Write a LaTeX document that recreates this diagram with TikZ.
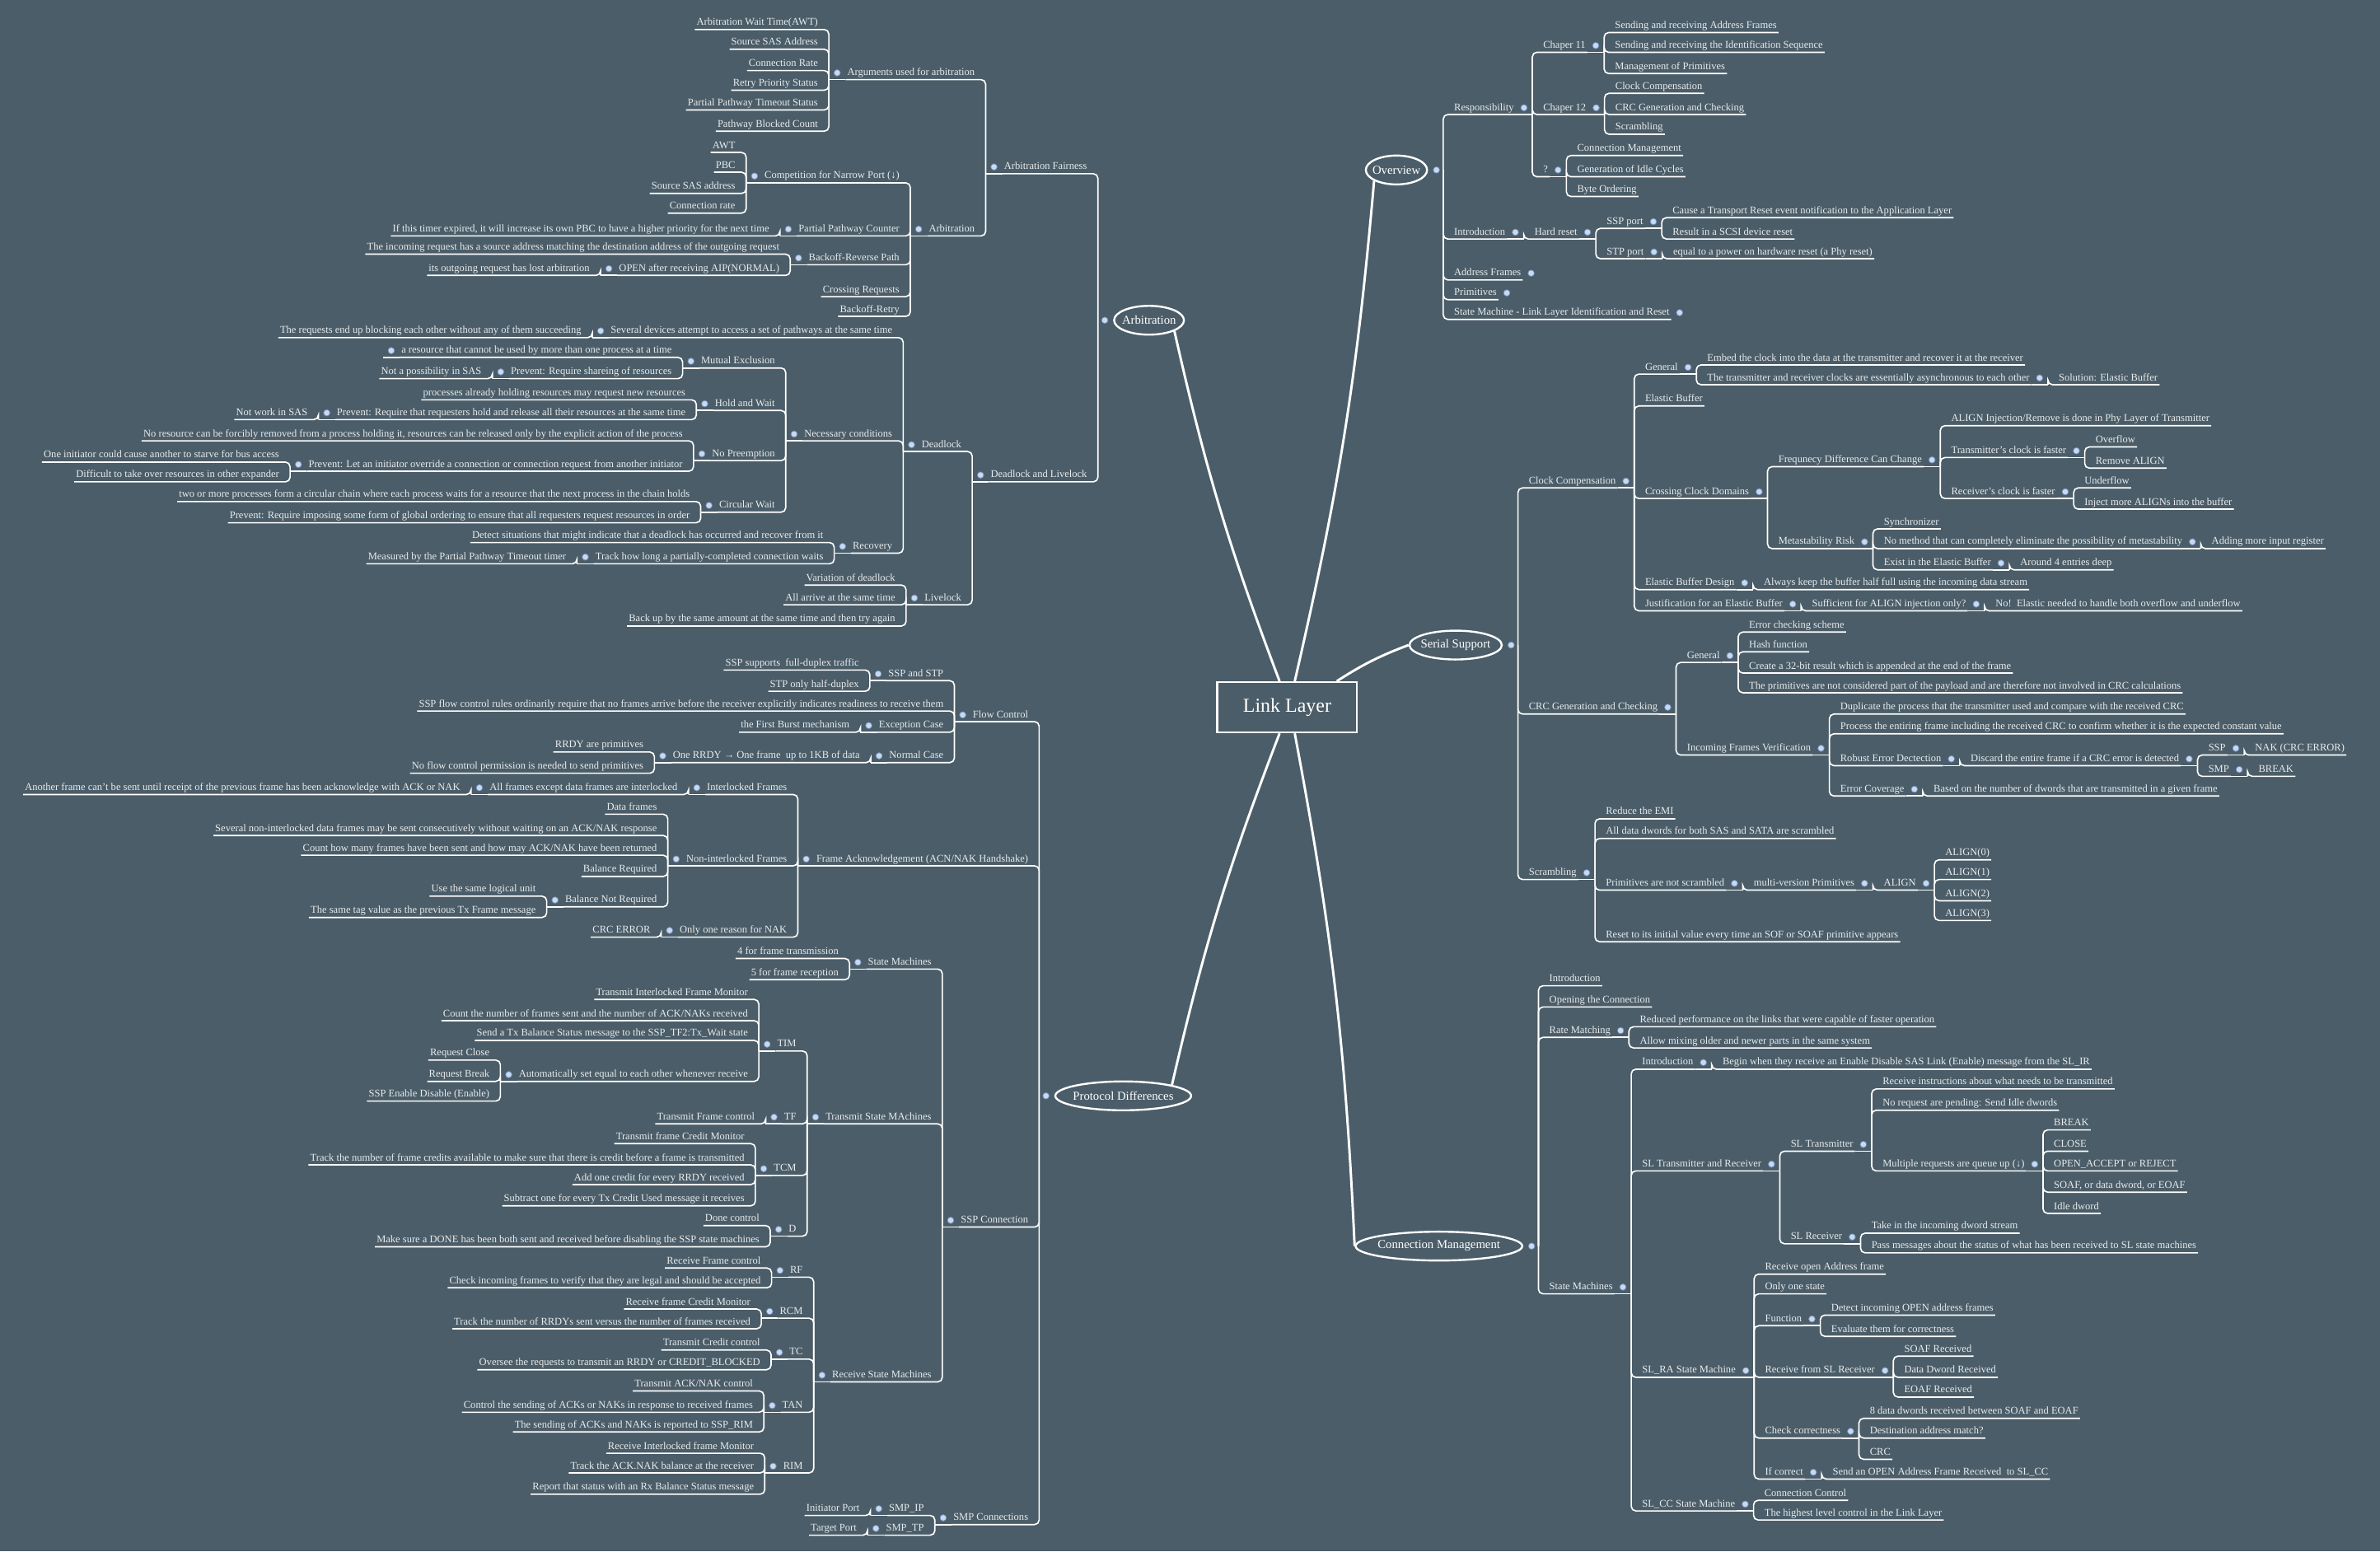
\documentclass[tikz,border=0pt]{standalone}
\usepackage{fontspec}
\setmainfont{Liberation Serif}
\usetikzlibrary{shapes.geometric,calc}
\definecolor{bgc}{HTML}{4B5D68}
\definecolor{txtc}{HTML}{E8ECEE}
\definecolor{dotc}{HTML}{C9D9F2}
\definecolor{dotb}{HTML}{6F8FB8}
\tikzset{
 txt/.style={font=\fontsize{6.8}{8}\selectfont, text=txtc, inner sep=1pt, text height=5pt, text depth=1.5pt},
 ln/.style={draw=white, line width=0.9pt, rounded corners=3pt},
 dt/.style={fill=dotc, draw=dotb, line width=0.4pt},
 mainel/.style={ellipse, draw=white, line width=1.3pt, text=white, font=\fontsize{8}{10}\selectfont, inner xsep=-1.5pt, inner ysep=3pt, minimum height=19pt},
 mainln/.style={draw=white, line width=1.6pt},
 centerbox/.style={draw=white, line width=1.4pt, text=white, font=\fontsize{13}{15}\selectfont, minimum width=92pt, minimum height=33pt}
}
\newcommand\DR[1]{\fill[dt] ($(#1.east)+(5.5,0)$) circle[radius=2.1pt];}
\newcommand\DL[1]{\fill[dt] ($(#1.west)+(-5.5,0)$) circle[radius=2.1pt];}
\newcommand\Rf[4]{\path (0,#3) coordinate (tmpy);
 \node[txt,anchor=west] (#1) at ($(#2-t |- tmpy)+(6,0)$) {#4};
 \draw[ln] (#1.south east) -- (#1.south west -| #2-t) -- (#2-t);}
\newcommand\Rp[4]{\Rf{#1}{#2}{#3}{#4}\coordinate (#1-t) at ($(#1.south east)+(11,0)$);
 \draw[ln] (#1.south east) -- (#1-t); \DR{#1}}
\newcommand\Lf[4]{\path (0,#3) coordinate (tmpy);
 \node[txt,anchor=east] (#1) at ($(#2-t |- tmpy)+(-6,0)$) {#4};
 \draw[ln] (#1.south west) -- (#1.south east -| #2-t) -- (#2-t);}
\newcommand\Lp[4]{\Lf{#1}{#2}{#3}{#4}\coordinate (#1-t) at ($(#1.south west)+(-11,0)$);
 \draw[ln] (#1.south west) -- (#1-t); \DL{#1}}
\begin{document}
\begin{tikzpicture}[x=1pt,y=-1pt]
\fill[bgc] (0,0) rectangle (1568,1022);
\useasboundingbox (0,0) rectangle (1568,1022);
% center and main nodes
\node[centerbox] (LL) at (848,466) {Link Layer};
\node[mainel] (OV) at (920,112) {Overview};
\node[mainel] (SS) at (959,425) {Serial Support};
\node[mainel] (CM) at (948,821) {Connection Management};
\node[mainel] (AR) at (757,211) {Arbitration};
\node[mainel] (PD) at (740,722) {Protocol Differences};
\draw[mainln] ($(LL.north)+(5,0)$) to[bend right=4] (OV.south west);
\draw[mainln] ($(LL.north east)+(-14,0)$) to[bend left=6] (SS.west);
\draw[mainln] ($(LL.south)+(5,0)$) to[bend left=4] (CM.west);
\draw[mainln] ($(LL.north)+(-5,0)$) to[bend left=4] (AR.south east);
\draw[mainln] ($(LL.south)+(-5,0)$) to[bend right=4] (PD.north east);
\foreach \m in {OV,SS,CM}{\coordinate (\m-t) at ($(\m.east)+(10,0)$); \DR{\m}}
\foreach \m in {AR,PD}{\coordinate (\m-t) at ($(\m.west)+(-10,0)$); \DL{\m}}
% ===== Arbitration
\Lp{af}{AR}{110}{Arbitration Fairness}
\Lp{aua}{af}{48}{Arguments used for arbitration}
\Lf{a1}{aua}{15}{Arbitration Wait Time(AWT)}
\Lf{a2}{aua}{28}{Source SAS Address}
\Lf{a3}{aua}{42}{Connection Rate}
\Lf{a4}{aua}{55}{Retry Priority Status}
\Lf{a5}{aua}{68}{Partial Pathway Timeout Status}
\Lf{a6}{aua}{82}{Pathway Blocked Count}
\Lp{arb}{af}{151}{Arbitration}
\Lp{cnp}{arb}{116}{Competition for Narrow Port (↓)}
\Lf{c1}{cnp}{96}{AWT}
\Lf{c2}{cnp}{109}{PBC}
\Lf{c3}{cnp}{123}{Source SAS address}
\Lf{c4}{cnp}{136}{Connection rate}
\Lp{ppc}{arb}{151}{Partial Pathway Counter}
\Lf{ppc1}{ppc}{151}{If this timer expired, it will increase its own PBC to have a higher priority for the next time}
\Lp{brp}{arb}{170}{Backoff-Reverse Path}
\Lf{brp1}{brp}{163}{The incoming request has a source address matching the destination address of the outgoing request}
\Lp{oar}{brp}{177}{OPEN after receiving AIP(NORMAL)}
\Lf{oar1}{oar}{177}{its outgoing request has lost arbitration}
\Lf{crq}{arb}{191}{Crossing Requests}
\Lf{brt}{arb}{204}{Backoff-Retry}
\Lp{dl}{AR}{313}{Deadlock and Livelock}
\Lp{dd}{dl}{293}{Deadlock}
\Lp{sd}{dd}{218}{Several devices attempt to access a set of pathways at the same time}
\Lf{sd1}{sd}{218}{The requests end up blocking each other without any of them succeeding}
\Lp{nc}{dd}{286}{Necessary conditions}
\Lp{me}{nc}{238}{Mutual Exclusion}
\Lp{me1}{me}{231}{a resource that cannot be used by more than one process at a time}
\Lp{me2}{me}{245}{Prevent: Require shareing of resources}
\Lf{me3}{me2}{245}{Not a possibility in SAS}
\Lp{hw}{nc}{266}{Hold and Wait}
\Lf{hw1}{hw}{259}{processes already holding resources may request new resources}
\Lp{hw2}{hw}{272}{Prevent: Require that requesters hold and release all their resources at the same time}
\Lf{hw3}{hw2}{272}{Not work in SAS}
\Lp{np}{nc}{299}{No Preemption}
\Lf{np1}{np}{286}{No resource can be forcibly removed from a process holding it, resources can be released only by the explicit action of the process}
\Lp{np2}{np}{306}{Prevent: Let an initiator override a connection or connection request from another initiator}
\Lf{np3}{np2}{300}{One initiator could cause another to starve for bus access}
\Lf{np4}{np2}{313}{Difficult to take over resources in other expander}
\Lp{cw}{nc}{333}{Circular Wait}
\Lf{cw1}{cw}{326}{two or more processes form a circular chain where each process waits for a resource that the next process in the chain holds}
\Lf{cw2}{cw}{340}{Prevent: Require imposing some form of global ordering to ensure that all requesters request resources in order}
\Lp{rc}{dd}{360}{Recovery}
\Lf{rc1}{rc}{353}{Detect situations that might indicate that a deadlock has occurred and recover from it}
\Lp{rc2}{rc}{367}{Track how long a partially-completed connection waits}
\Lf{rc3}{rc2}{367}{Measured by the Partial Pathway Timeout timer}
\Lp{lv}{dl}{394}{Livelock}
\Lf{lv1}{lv}{381}{Variation of deadlock}
\Lf{lv2}{lv}{394}{All arrive at the same time}
\Lf{lv3}{lv}{408}{Back up by the same amount at the same time and then try again}
% ===== Protocol Differences
\Lp{fc}{PD}{471}{Flow Control}
\Lp{sst}{fc}{444}{SSP and STP}
\Lf{sst1}{sst}{437}{SSP supports\ \ full-duplex traffic}
\Lf{sst2}{sst}{451}{STP only half-duplex}
\Lf{fc1}{fc}{464}{SSP flow control rules ordinarily require that no frames arrive before the receiver explicitly indicates readiness to receive them}
\Lp{ec}{fc}{478}{Exception Case}
\Lf{ec1}{ec}{478}{the First Burst mechanism}
\Lp{nca}{fc}{498}{Normal Case}
\Lp{nca1}{nca}{498}{One RRDY → One frame\ \ up to 1KB of data}
\Lf{nca2}{nca1}{491}{RRDY are primitives}
\Lf{nca3}{nca1}{505}{No flow control permission is needed to send primitives}
\Lp{fa}{PD}{566}{Frame Acknowledgement (ACN/NAK Handshake)}
\Lp{ilf}{fa}{519}{Interlocked Frames}
\Lp{ilf1}{ilf}{519}{All frames except data frames are interlocked}
\Lf{ilf2}{ilf1}{519}{Another frame can't be sent until receipt of the previous frame has been acknowledge with ACK or NAK}
\Lp{ni}{fa}{566}{Non-interlocked Frames}
\Lf{ni1}{ni}{532}{Data frames}
\Lf{ni2}{ni}{546}{Several non-interlocked data frames may be sent consecutively without waiting on an ACK/NAK response}
\Lf{ni3}{ni}{559}{Count how many frames have been sent and how may ACK/NAK have been returned}
\Lf{ni4}{ni}{573}{Balance Required}
\Lp{ni5}{ni}{593}{Balance Not Required}
\Lf{ni6}{ni5}{586}{Use the same logical unit}
\Lf{ni7}{ni5}{600}{The same tag value as the previous Tx Frame message}
\Lp{onr}{fa}{613}{Only one reason for NAK}
\Lf{onr1}{onr}{613}{CRC ERROR}
\Lp{sc}{PD}{804}{SSP Connection}
\Lp{sm}{sc}{634}{State Machines}
\Lf{sm1}{sm}{627}{4 for frame transmission}
\Lf{sm2}{sm}{641}{5 for frame reception}
\Lp{tsm}{sc}{736}{Transmit State MAchines}
\Lp{tim}{tsm}{688}{TIM}
\Lf{tim1}{tim}{654}{Transmit Interlocked Frame Monitor}
\Lf{tim2}{tim}{668}{Count the number of frames sent and the number of ACK/NAKs received}
\Lf{tim3}{tim}{681}{Send a Tx Balance Status message to the SSP\_TF2:Tx\_Wait state}
\Lp{tim4}{tim}{708}{Automatically set equal to each other whenever receive}
\Lf{tim5}{tim4}{694}{Request Close}
\Lf{tim6}{tim4}{708}{Request Break}
\Lf{tim7}{tim4}{721}{SSP Enable Disable (Enable)}
\Lp{tf}{tsm}{736}{TF}
\Lf{tf1}{tf}{736}{Transmit Frame control}
\Lp{tcm}{tsm}{770}{TCM}
\Lf{tcm1}{tcm}{749}{Transmit frame Credit Monitor}
\Lf{tcm2}{tcm}{763}{Track the number of frame credits available to make sure that there is credit before a frame is transmitted}
\Lf{tcm3}{tcm}{776}{Add one credit for every RRDY received}
\Lf{tcm4}{tcm}{790}{Subtract one for every Tx Credit Used message it receives}
\Lp{dn}{tsm}{810}{D}
\Lf{dn1}{dn}{803}{Done control}
\Lf{dn2}{dn}{817}{Make sure a DONE has been both sent and received before disabling the SSP state machines}
\Lp{rsm}{sc}{906}{Receive State Machines}
\Lp{rf}{rsm}{837}{RF}
\Lf{rf1}{rf}{831}{Receive Frame control}
\Lf{rf2}{rf}{844}{Check incoming frames to verify that they are legal and should be accepted}
\Lp{rcm}{rsm}{864}{RCM}
\Lf{rcm1}{rcm}{858}{Receive frame Credit Monitor}
\Lf{rcm2}{rcm}{871}{Track the number of RRDYs sent versus the number of frames received}
\Lp{tcc}{rsm}{891}{TC}
\Lf{tcc1}{tcc}{885}{Transmit Credit control}
\Lf{tcc2}{tcc}{898}{Oversee the requests to transmit an RRDY or CREDIT\_BLOCKED}
\Lp{tan}{rsm}{926}{TAN}
\Lf{tan1}{tan}{912}{Transmit ACK/NAK control}
\Lf{tan2}{tan}{926}{Control the sending of ACKs or NAKs in response to received frames}
\Lf{tan3}{tan}{939}{The sending of ACKs and NAKs is reported to SSP\_RIM}
\Lp{rim}{rsm}{966}{RIM}
\Lf{rim1}{rim}{953}{Receive Interlocked frame Monitor}
\Lf{rim2}{rim}{966}{Track the ACK.NAK balance at the receiver}
\Lf{rim3}{rim}{980}{Report that status with an Rx Balance Status message}
\Lp{smp}{PD}{1000}{SMP Connections}
\Lp{sip}{smp}{994}{SMP\_IP}
\Lf{sip1}{sip}{994}{Initiator Port}
\Lp{stp}{smp}{1007}{SMP\_TP}
\Lf{stp1}{stp}{1007}{Target Port}
% ===== Overview
\Rp{rsp}{OV}{71}{Responsibility}
\Rp{ch11}{rsp}{30}{Chaper 11}
\Rf{ch11a}{ch11}{17}{Sending and receiving Address Frames}
\Rf{ch11b}{ch11}{30}{Sending and receiving the Identification Sequence}
\Rf{ch11c}{ch11}{44}{Management of Primitives}
\Rp{ch12}{rsp}{71}{Chaper 12}
\Rf{ch12a}{ch12}{57}{Clock Compensation}
\Rf{ch12b}{ch12}{71}{CRC Generation and Checking}
\Rf{ch12c}{ch12}{84}{Scrambling}
\Rp{chq}{rsp}{112}{?}
\Rf{chqa}{chq}{98}{Connection Management}
\Rf{chqb}{chq}{112}{Generation of Idle Cycles}
\Rf{chqc}{chq}{125}{Byte Ordering}
\Rp{intr}{OV}{153}{Introduction}
\Rp{hr}{intr}{153}{Hard reset}
\Rp{sspp}{hr}{146}{SSP port}
\Rf{sspp1}{sspp}{139}{Cause a Transport Reset event notification to the Application Layer}
\Rf{sspp2}{sspp}{153}{Result in a SCSI device reset}
\Rp{stpp}{hr}{166}{STP port}
\Rf{stpp1}{stpp}{166}{equal to a power on hardware reset (a Phy reset)}
\Rf{adf}{OV}{180}{Address Frames}\DR{adf}
\Rf{prm}{OV}{193}{Primitives}\DR{prm}
\Rf{smll}{OV}{206}{State Machine - Link Layer Identification and Reset}\DR{smll}
% ===== Serial Support
\Rp{cc}{SS}{317}{Clock Compensation}
\Rp{ccg}{cc}{242}{General}
\Rf{ccg1}{ccg}{236}{Embed the clock into the data at the transmitter and recover it at the receiver}
\Rp{ccg2}{ccg}{249}{The transmitter and receiver clocks are essentially asynchronous to each other}
\Rf{ccg3}{ccg2}{249}{Solution: Elastic Buffer}
\Rf{ceb}{cc}{263}{Elastic Buffer}
\Rp{ccd}{cc}{324}{Crossing Clock Domains}
\Rp{fdc}{ccd}{303}{Frequnecy Difference Can Change}
\Rf{fdc1}{fdc}{276}{ALIGN Injection/Remove is done in Phy Layer of Transmitter}
\Rp{tcf}{fdc}{297}{Transmitter's clock is faster}
\Rf{tcf1}{tcf}{290}{Overflow}
\Rf{tcf2}{tcf}{304}{Remove ALIGN}
\Rp{rcf}{fdc}{324}{Receiver's clock is faster}
\Rf{rcf1}{rcf}{317}{Underflow}
\Rf{rcf2}{rcf}{331}{Inject more ALIGNs into the buffer}
\Rp{mr}{ccd}{357}{Metastability Risk}
\Rf{mr1}{mr}{344}{Synchronizer}
\Rp{mr2}{mr}{357}{No method that can completely eliminate the possibility of metastability}
\Rf{mr3}{mr2}{357}{Adding more input register}
\Rp{mr4}{mr}{371}{Exist in the Elastic Buffer}
\Rf{mr5}{mr4}{371}{Around 4 entries deep}
\Rp{ebd}{cc}{384}{Elastic Buffer Design}
\Rf{ebd1}{ebd}{384}{Always keep the buffer half full using the incoming data stream}
\Rp{jeb}{cc}{398}{Justification for an Elastic Buffer}
\Rp{jeb1}{jeb}{398}{Sufficient for ALIGN injection only?}
\Rf{jeb2}{jeb1}{398}{No!\ \ Elastic needed to handle both overflow and underflow}
\Rp{crc}{SS}{466}{CRC Generation and Checking}
\Rp{crg}{crc}{432}{General}
\Rf{crg1}{crg}{412}{Error checking scheme}
\Rf{crg2}{crg}{425}{Hash function}
\Rf{crg3}{crg}{439}{Create a 32-bit result which is appended at the end of the frame}
\Rf{crg4}{crg}{452}{The primitives are not considered part of the payload and are therefore not involved in CRC calculations}
\Rp{ifv}{crc}{493}{Incoming Frames Verification}
\Rf{ifv1}{ifv}{466}{Duplicate the process that the transmitter used and compare with the received CRC}
\Rf{ifv2}{ifv}{479}{Process the entiring frame including the received CRC to confirm whether it is the expected constant value}
\Rp{red}{ifv}{500}{Robust Error Dectection}
\Rp{red1}{red}{500}{Discard the entire frame if a CRC error is detected}
\Rp{rssp}{red1}{493}{SSP}
\Rf{rssp1}{rssp}{493}{NAK (CRC ERROR)}
\Rp{rsmp}{red1}{507}{SMP}
\Rf{rsmp1}{rsmp}{507}{BREAK}
\Rp{ecv}{ifv}{520}{Error Coverage}
\Rf{ecv1}{ecv}{520}{Based on the number of dwords that are transmitted in a given frame}
\Rp{scr}{SS}{575}{Scrambling}
\Rf{scr1}{scr}{535}{Reduce the EMI}
\Rf{scr2}{scr}{548}{All data dwords for both SAS and SATA are scrambled}
\Rp{pns}{scr}{582}{Primitives are not scrambled}
\Rp{mvp}{pns}{582}{multi-version Primitives}
\Rp{aln}{mvp}{582}{ALIGN}
\Rf{aln0}{aln}{562}{ALIGN(0)}
\Rf{aln1}{aln}{575}{ALIGN(1)}
\Rf{aln2}{aln}{589}{ALIGN(2)}
\Rf{aln3}{aln}{602}{ALIGN(3)}
\Rf{scr3}{scr}{616}{Reset to its initial value every time an SOF or SOAF primitive appears}
% ===== Connection Management
\Rf{cmi}{CM}{645}{Introduction}
\Rf{cmo}{CM}{659}{Opening the Connection}
\Rp{rm}{CM}{679}{Rate Matching}
\Rf{rm1}{rm}{672}{Reduced performance on the links that were capable of faster operation}
\Rf{rm2}{rm}{686}{Allow mixing older and newer parts in the same system}
\Rp{csm}{CM}{848}{State Machines}
\Rp{csi}{csm}{700}{Introduction}
\Rf{csi1}{csi}{700}{Begin when they receive an Enable Disable SAS Link (Enable) message from the SL\_IR}
\Rp{str}{csm}{767}{SL Transmitter and Receiver}
\Rp{slt}{str}{754}{SL Transmitter}
\Rf{slt1}{slt}{713}{Receive instructions about what needs to be transmitted}
\Rf{slt2}{slt}{727}{No request are pending: Send Idle dwords}
\Rp{mrq}{slt}{767}{Multiple requests are queue up (↓)}
\Rf{mrq1}{mrq}{740}{BREAK}
\Rf{mrq2}{mrq}{754}{CLOSE}
\Rf{mrq3}{mrq}{767}{OPEN\_ACCEPT or REJECT}
\Rf{mrq4}{mrq}{781}{SOAF, or data dword, or EOAF}
\Rf{mrq5}{mrq}{795}{Idle dword}
\Rp{slr}{str}{815}{SL Receiver}
\Rf{slr1}{slr}{808}{Take in the incoming dword stream}
\Rf{slr2}{slr}{821}{Pass messages about the status of what has been received to SL state machines}
\Rp{sra}{csm}{903}{SL\_RA State Machine}
\Rf{sra1}{sra}{835}{Receive open Address frame}
\Rf{sra2}{sra}{848}{Only one state}
\Rp{fun}{sra}{869}{Function}
\Rf{fun1}{fun}{862}{Detect incoming OPEN address frames}
\Rf{fun2}{fun}{876}{Evaluate them for correctness}
\Rp{rfs}{sra}{903}{Receive from SL Receiver}
\Rf{rfs1}{rfs}{889}{SOAF Received}
\Rf{rfs2}{rfs}{903}{Data Dword Received}
\Rf{rfs3}{rfs}{916}{EOAF Received}
\Rp{chk}{sra}{943}{Check correctness}
\Rf{chk1}{chk}{930}{8 data dwords received between SOAF and EOAF}
\Rf{chk2}{chk}{943}{Destination address match?}
\Rf{chk3}{chk}{957}{CRC}
\Rp{ifc}{sra}{970}{If correct}
\Rf{ifc1}{ifc}{970}{Send an OPEN Address Frame Received\ \ to SL\_CC}
\Rp{scc}{csm}{991}{SL\_CC State Machine}
\Rf{scc1}{scc}{984}{Connection Control}
\Rf{scc2}{scc}{997}{The highest level control in the Link Layer}
\end{tikzpicture}
\end{document}
